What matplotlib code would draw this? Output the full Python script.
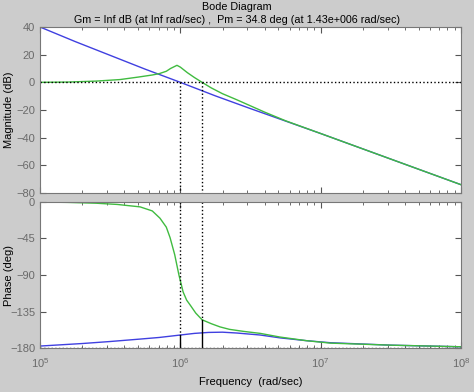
import numpy as np
import matplotlib.pyplot as plt
from matplotlib.ticker import LogLocator, NullFormatter

plt.rcParams['font.family'] = ['Liberation Sans', 'DejaVu Sans']

# log10 of frequency (rad/sec) and readings
mag_blue_logw = [5.0, 5.25, 5.5, 5.75, 6.0, 6.25, 6.5, 6.75, 7.0, 7.5, 8.0]
mag_blue_db = [40, 29.5, 19.5, 9.5, 0, -9.8, -19, -28, -37, -55.5, -74]

mag_green_logw = [5.0, 5.2, 5.4, 5.57, 5.7, 5.8, 5.85, 5.9, 5.93, 5.976,
                  6.0, 6.05, 6.1, 6.155, 6.22, 6.3, 6.4, 6.5, 6.6, 6.75,
                  7.0, 7.5, 8.0]
mag_green_db = [0, 0.2, 0.9, 2, 3.8, 5.3, 6.3, 8, 10, 12.3,
                11, 7, 3.5, 0, -4, -8.2, -12.5, -17, -21.5, -27.8,
                -37, -55.5, -74]

ph_blue_logw = [5.0, 5.3, 5.5, 5.713, 5.85, 6.0, 6.1, 6.2, 6.3, 6.4,
                6.57, 6.71, 6.9, 7.07, 7.5, 8.0]
ph_blue_deg = [-177.6, -174.5, -172, -169, -167, -164, -162, -160.8, -160.5, -161.5,
               -164, -167.5, -171, -173.5, -176.5, -178.5]

ph_green_logw = [5.0, 5.2, 5.4, 5.55, 5.713, 5.8, 5.855, 5.9, 5.927, 5.96,
                 5.99, 6.02, 6.045, 6.07, 6.11, 6.155, 6.22, 6.283, 6.35, 6.45,
                 6.57, 6.71, 6.9, 7.07, 7.5, 8.0]
ph_green_deg = [0, -0.5, -1.5, -3, -6, -11, -20, -31, -44, -65,
                -90, -111, -121, -127, -137, -145.2, -150, -154, -157, -159.5,
                -162, -166.5, -171, -174, -176.5, -178.5]

wc_blue, pm_blue_phase = 1e6, -164
wc_green, pm_green_phase = 1.43e6, -145.2

blue = '#4040e0'
green = '#40bb40'
tick_grey = '#6a6a6a'

fig = plt.figure(figsize=(4.74, 3.92), dpi=100, facecolor='#cccccc')
W, H = 474, 392
ax1 = fig.add_axes([40 / W, (H - 193) / H, 421 / W, 166 / H])
ax2 = fig.add_axes([40 / W, (H - 348) / H, 421 / W, 146 / H])

ax1.plot(10 ** np.array(mag_blue_logw), mag_blue_db, color=blue, lw=1)
ax1.plot(10 ** np.array(mag_green_logw), mag_green_db, color=green, lw=1)
ax1.axhline(0, color='black', ls=':', lw=1)
for w in (wc_blue, wc_green):
    ax1.plot([w, w], [0, -80], color='black', ls=':', lw=1)
ax1.set_ylim(-80, 40)
ax1.set_yticks([40, 20, 0, -20, -40, -60, -80])

ax2.plot(10 ** np.array(ph_blue_logw), ph_blue_deg, color=blue, lw=1)
ax2.plot(10 ** np.array(ph_green_logw), ph_green_deg, color=green, lw=1)
ax2.axhline(-180, color='black', ls=':', lw=1)
ax2.plot([wc_blue, wc_blue], [0, pm_blue_phase], color='black', ls=':', lw=1)
ax2.plot([wc_blue, wc_blue], [pm_blue_phase, -180], color='black', lw=1)
ax2.plot([wc_green, wc_green], [0, pm_green_phase], color='black', ls=':', lw=1)
ax2.plot([wc_green, wc_green], [pm_green_phase, -180], color='black', lw=1)
ax2.set_ylim(-180, 0)
ax2.set_yticks([0, -45, -90, -135, -180])
ax2.set_xlabel('Frequency  (rad/sec)', fontsize=8, labelpad=5)

for ax in (ax1, ax2):
    ax.set_xscale('log')
    ax.set_xlim(1e5, 1e8)
    ax.xaxis.set_major_locator(LogLocator(base=10, numticks=10))
    ax.xaxis.set_minor_locator(LogLocator(base=10, subs=np.arange(2, 10), numticks=20))
    ax.xaxis.set_minor_formatter(NullFormatter())
    ax.tick_params(which='both', direction='in', top=True, right=True,
                   labelsize=8, labelcolor=tick_grey, color='#555555')
    ax.tick_params(which='major', length=4)
    ax.tick_params(which='minor', length=2.5)
    ax.tick_params(axis='x', pad=6)
    for s in ax.spines.values():
        s.set_color('#777777')
        s.set_linewidth(0.8)
ax1.tick_params(labelbottom=False)

fig.text(9 / W, (H - 110) / H, 'Magnitude (dB)', rotation=90,
         ha='center', va='center', fontsize=8)
fig.text(9 / W, (H - 275) / H, 'Phase (deg)', rotation=90,
         ha='center', va='center', fontsize=8)
fig.text(0.5, (H - 7) / H, 'Bode Diagram', ha='center', va='center', fontsize=7.75)
fig.text(0.5, (H - 20) / H,
         'Gm = Inf dB (at Inf rad/sec) ,  Pm = 34.8 deg (at 1.43e+006 rad/sec)',
         ha='center', va='center', fontsize=7.75)

fig.savefig('out.png', dpi=100, facecolor=fig.get_facecolor())
